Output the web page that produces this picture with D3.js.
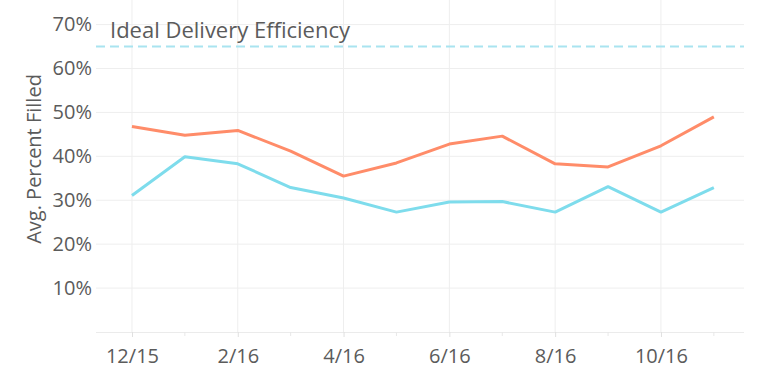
<!DOCTYPE html>
<html>
<head>
<meta charset="utf-8">
<script src="https://cdn.jsdelivr.net/npm/d3@7"></script>
<style>
  body { margin: 0; background: #fff; }
  text { font-family: "Open Sans", sans-serif; fill: #5b5b5b; }
</style>
</head>
<body>
<svg id="chart"></svg>
<script>
const months = ["12/15", "1/16", "2/16", "3/16", "4/16", "5/16", "6/16", "7/16", "8/16", "9/16", "10/16", "11/16"];
const upperSeries = [46.8, 44.8, 45.9, 41.2, 35.5, 38.5, 42.8, 44.6, 38.3, 37.6, 42.4, 49.0];
const lowerSeries = [31.1, 39.9, 38.3, 32.9, 30.5, 27.3, 29.6, 29.7, 27.3, 33.1, 27.3, 32.9];
const yTicks = [10, 20, 30, 40, 50, 60, 70];
const idealValue = 65;
const idealLabel = "Ideal Delivery Efficiency";

const W = 768, H = 391;
const margin = { top: 0, right: 24, bottom: 59, left: 96 };
const width = W - margin.left - margin.right;
const height = H - margin.top - margin.bottom;

const svg = d3.select("#chart")
  .attr("width", W)
  .attr("height", H)
  .append("g")
  .attr("transform", `translate(${margin.left},${margin.top})`);

const x = d3.scaleLinear()
  .domain([-0.68, months.length - 1 + 0.57])
  .range([0, width]);

const y = d3.scaleLinear()
  .domain([0, 75.6])
  .range([height, 0]);

// grid
svg.append("g")
  .selectAll("line")
  .data(yTicks)
  .enter()
  .append("line")
  .attr("x1", 0)
  .attr("x2", width)
  .attr("y1", d => y(d))
  .attr("y2", d => y(d))
  .attr("stroke", "#eeeeee")
  .attr("stroke-width", 1);

const majorIdx = months.map((m, i) => i).filter(i => i % 2 === 0);
const minorIdx = months.map((m, i) => i).filter(i => i % 2 === 1);

svg.append("g")
  .selectAll("line")
  .data(majorIdx)
  .enter()
  .append("line")
  .attr("x1", d => x(d))
  .attr("x2", d => x(d))
  .attr("y1", 0)
  .attr("y2", height)
  .attr("stroke", "#eeeeee")
  .attr("stroke-width", 1);

// x axis
const xAxis = d3.axisBottom(x)
  .tickValues(majorIdx)
  .tickSize(5)
  .tickPadding(12)
  .tickFormat(i => months[i]);

const gx = svg.append("g")
  .attr("transform", `translate(0,${height})`)
  .call(xAxis);
gx.select(".domain").attr("stroke", "#ebebeb").attr("d", `M0,0.5H${width}`);
gx.selectAll(".tick line").attr("stroke", "#e0e0e0");
gx.selectAll(".tick text").style("font-size", "20px").attr("fill", "#5b5b5b");

gx.append("g")
  .selectAll("line")
  .data(minorIdx)
  .enter()
  .append("line")
  .attr("x1", d => x(d))
  .attr("x2", d => x(d))
  .attr("y1", 0)
  .attr("y2", 4)
  .attr("stroke", "#e8e8e8");

// y axis
const yAxis = d3.axisLeft(y)
  .tickValues(yTicks)
  .tickSize(0)
  .tickPadding(4)
  .tickFormat(d => d + "%");

const gy = svg.append("g").call(yAxis);
gy.select(".domain").remove();
gy.selectAll(".tick text").style("font-size", "20px").attr("fill", "#5b5b5b");

svg.append("text")
  .attr("transform", `translate(${-55},${y(39.4)}) rotate(-90)`)
  .attr("text-anchor", "middle")
  .style("font-size", "20px")
  .text("Avg. Percent Filled");

// ideal line
svg.append("line")
  .attr("x1", 0)
  .attr("x2", width)
  .attr("y1", y(idealValue))
  .attr("y2", y(idealValue))
  .attr("stroke", "#a9e4f0")
  .attr("stroke-width", 2)
  .attr("stroke-dasharray", "9,5");

svg.append("text")
  .attr("x", 14)
  .attr("y", y(idealValue) - 9)
  .style("font-size", "22px")
  .text(idealLabel);

// series
const line = d3.line()
  .x((d, i) => x(i))
  .y(d => y(d));

svg.append("path")
  .datum(lowerSeries)
  .attr("fill", "none")
  .attr("stroke", "#7edcec")
  .attr("stroke-width", 3)
  .attr("stroke-linejoin", "round")
  .attr("d", line);

svg.append("path")
  .datum(upperSeries)
  .attr("fill", "none")
  .attr("stroke", "#ff8c69")
  .attr("stroke-width", 3)
  .attr("stroke-linejoin", "round")
  .attr("d", line);
</script>
</body>
</html>
